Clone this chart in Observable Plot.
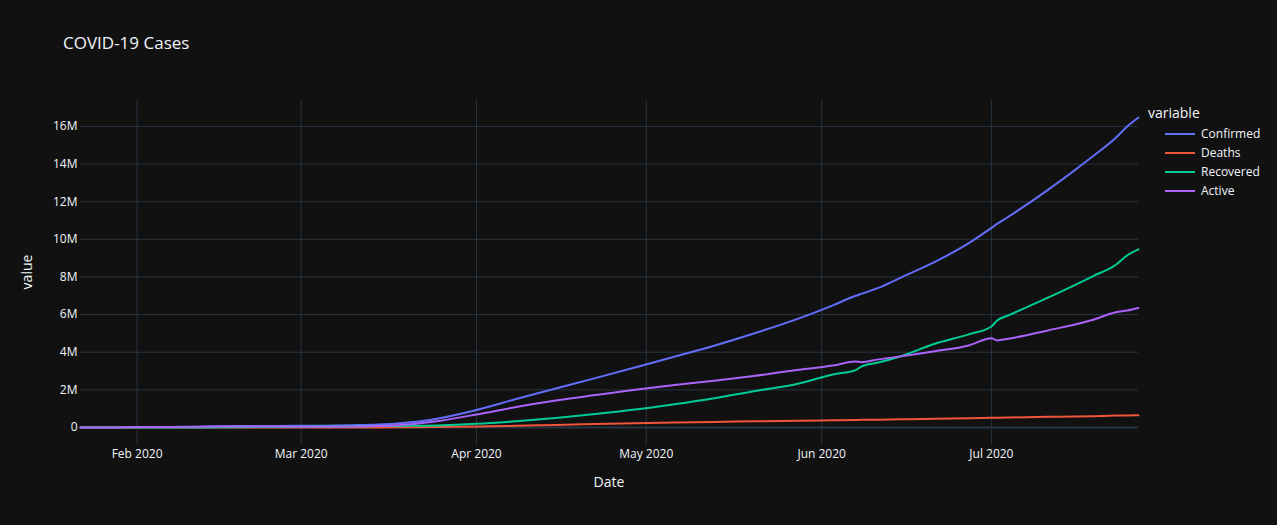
<!DOCTYPE html>
<html>
<head>
<meta charset="utf-8">
<script src="https://cdn.jsdelivr.net/npm/d3@7"></script>
<script src="https://cdn.jsdelivr.net/npm/@observablehq/plot@0.6"></script>
<style>
  html, body { margin: 0; padding: 0; background: #111111; }
  #wrap { position: relative; width: 1277px; height: 525px; background: #111111; font-family: "Open Sans", sans-serif; color: #f2f5fa; overflow: hidden; }
  #wrap svg { position: absolute; left: 0; top: 0; }
  .abs { position: absolute; white-space: nowrap; }
  #title { left: 63px; top: 31px; font-size: 17px; }
  #ylab { left: 26px; top: 272px; font-size: 14px; transform: translate(-50%, -50%) rotate(-90deg); }
  #xlab { left: 609px; top: 481px; font-size: 14px; transform: translate(-50%, -50%); }
  #legend { left: 1148px; top: 102px; }
  #legend .lt { font-size: 14px; height: 22px; line-height: 22px; }
  #legend .it { display: flex; align-items: center; height: 19px; font-size: 12px; }
  #legend .sw { width: 30px; height: 2px; margin-left: 17px; margin-right: 6px; }
</style>
</head>
<body>
<div id="wrap">
  <div id="title" class="abs">COVID-19 Cases</div>
  <div id="ylab" class="abs">value</div>
  <div id="xlab" class="abs">Date</div>
  <div id="legend" class="abs"></div>
</div>
<script>
const dates = ["2020-01-22","2020-01-29","2020-02-05","2020-02-12","2020-02-19","2020-02-26",
  "2020-03-04","2020-03-11","2020-03-18","2020-03-25","2020-04-01","2020-04-08","2020-04-15",
  "2020-04-22","2020-04-29","2020-05-06","2020-05-13","2020-05-20","2020-05-28","2020-06-03",
  "2020-06-07","2020-06-08","2020-06-11","2020-06-15","2020-06-21","2020-06-27","2020-07-01","2020-07-02",
  "2020-07-04","2020-07-11","2020-07-19","2020-07-23","2020-07-25","2020-07-27"];

const confirmed = [555, 6166, 28276, 45220, 75700, 82500, 95100, 126700, 214900, 467600, 932600,
  1512000, 2075000, 2624000, 3191000, 3766000, 4345000, 4995000, 5800000, 6493000,
  7000000, 7100000, 7420000, 7970000, 8800000, 9800000, 10610000, 10820000,
  11200000, 12630000, 14430000, 15400000, 16000000, 16480000];
const deaths = [17, 133, 565, 1118, 2122, 2770, 3350, 4620, 8730, 21200, 47200, 88500, 136000,
  184000, 227000, 264000, 298000, 328000, 360000, 383000,
  403000, 407000, 418000, 433000, 462000, 495000, 516000, 521000,
  531000, 565000, 602000, 631000, 641000, 654000];
const recovered = [28, 126, 1123, 5150, 16160, 32900, 51200, 67000, 83300, 109000, 193000, 336000,
  510000, 717000, 956000, 1240000, 1560000, 1930000, 2340000, 2820000,
  3050000, 3240000, 3450000, 3790000, 4450000, 4950000, 5370000, 5690000,
  5960000, 6900000, 8050000, 8650000, 9150000, 9470000];
const active = [510, 5900, 26600, 38950, 57400, 46800, 40500, 55100, 122900, 337400, 692400,
  1087500, 1429000, 1723000, 2008000, 2262000, 2487000, 2737000, 3070000, 3290000,
  3510000, 3470000, 3620000, 3780000, 4050000, 4360000, 4750000, 4630000,
  4720000, 5160000, 5730000, 6130000, 6220000, 6356000];

const seriesNames = ["Confirmed", "Deaths", "Recovered", "Active"];
const seriesColors = ["#636efa", "#EF553B", "#00cc96", "#ab63fa"];
const yTicks = [0, 2e6, 4e6, 6e6, 8e6, 10e6, 12e6, 14e6, 16e6];
const xTicks = ["2020-02-01","2020-03-01","2020-04-01","2020-05-01","2020-06-01","2020-07-01"];

const parse = d3.utcParse("%Y-%m-%d");
const seriesValues = [confirmed, deaths, recovered, active];
const rows = [];
seriesNames.forEach((name, i) => {
  dates.forEach((d, j) => rows.push({Date: parse(d), value: seriesValues[i][j], variable: name}));
});
const xTickDates = xTicks.map(parse);

const chart = Plot.plot({
  width: 1277,
  height: 525,
  marginLeft: 80,
  marginRight: 139,
  marginTop: 100,
  marginBottom: 80,
  style: { background: "transparent", color: "#f2f5fa", fontFamily: "'Open Sans', sans-serif", fontSize: "12px" },
  x: { type: "utc", domain: [parse(dates[0]), parse(dates[dates.length - 1])] },
  y: { domain: [-0.957e6, 17.38e6] },
  color: { domain: seriesNames, range: seriesColors },
  marks: [
    Plot.gridY(yTicks.filter(d => d !== 0), { stroke: "#283442", strokeOpacity: 1, strokeWidth: 1 }),
    Plot.gridX(xTickDates, { stroke: "#283442", strokeOpacity: 1, strokeWidth: 1 }),
    Plot.ruleY([0], { stroke: "#283442", strokeWidth: 2 }),
    Plot.axisY(yTicks, { tickSize: 0, tickPadding: 3, label: null, fontSize: 12,
      tickFormat: d => d === 0 ? "0" : (d / 1e6) + "M", fill: "#f2f5fa" }),
    Plot.axisX(xTickDates, { tickSize: 0, tickPadding: 4, label: null, fontSize: 12,
      tickFormat: d3.utcFormat("%b %Y"), fill: "#f2f5fa" }),
    Plot.line(rows, { x: "Date", y: "value", z: "variable", stroke: "variable", strokeWidth: 2,
      curve: "monotone-x" })
  ]
});
document.getElementById("wrap").insertBefore(chart, document.getElementById("title"));

const legend = document.getElementById("legend");
const lt = document.createElement("div");
lt.className = "lt";
lt.textContent = "variable";
legend.appendChild(lt);
seriesNames.forEach((n, i) => {
  const it = document.createElement("div");
  it.className = "it";
  const sw = document.createElement("div");
  sw.className = "sw";
  sw.style.background = seriesColors[i];
  const tx = document.createElement("span");
  tx.textContent = n;
  it.appendChild(sw);
  it.appendChild(tx);
  legend.appendChild(it);
});
</script>
</body>
</html>
